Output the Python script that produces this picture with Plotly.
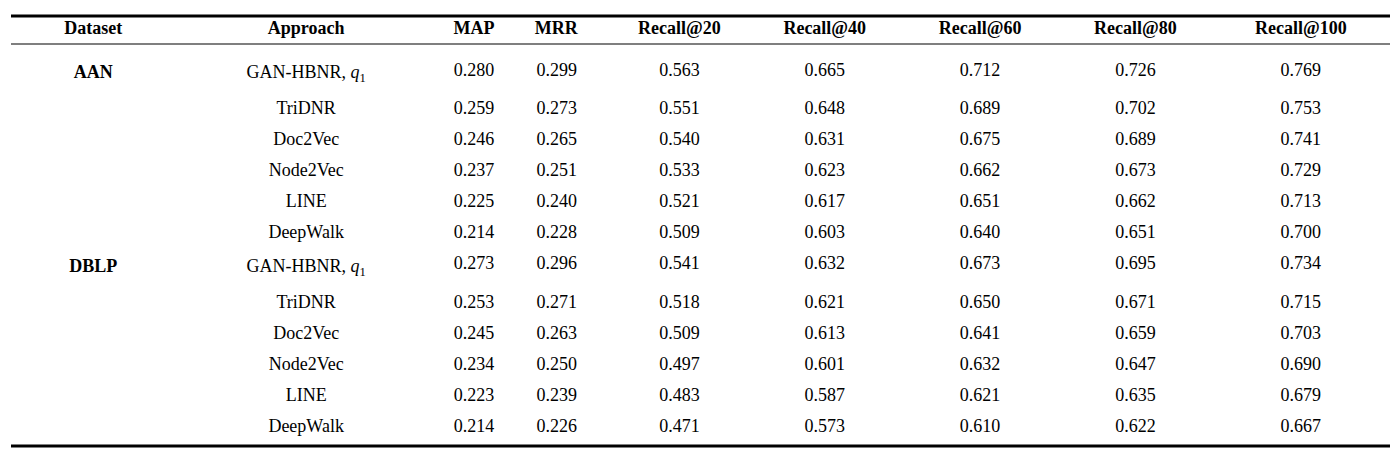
import plotly.graph_objects as go

headers = ["Dataset", "Approach", "MAP", "MRR", "Recall@20", "Recall@40", "Recall@60", "Recall@80", "Recall@100"]
datasets = ["AAN", "", "", "", "", "", "DBLP", "", "", "", "", ""]
approaches = ["GAN-HBNR, <i>q</i><sub>1</sub>", "TriDNR", "Doc2Vec", "Node2Vec", "LINE", "DeepWalk"] * 2
map_vals = ["0.280", "0.259", "0.246", "0.237", "0.225", "0.214", "0.273", "0.253", "0.245", "0.234", "0.223", "0.214"]
mrr_vals = ["0.299", "0.273", "0.265", "0.251", "0.240", "0.228", "0.296", "0.271", "0.263", "0.250", "0.239", "0.226"]
r20 = ["0.563", "0.551", "0.540", "0.533", "0.521", "0.509", "0.541", "0.518", "0.509", "0.497", "0.483", "0.471"]
r40 = ["0.665", "0.648", "0.631", "0.623", "0.617", "0.603", "0.632", "0.621", "0.613", "0.601", "0.587", "0.573"]
r60 = ["0.712", "0.689", "0.675", "0.662", "0.651", "0.640", "0.673", "0.650", "0.641", "0.632", "0.621", "0.610"]
r80 = ["0.726", "0.702", "0.689", "0.673", "0.662", "0.651", "0.695", "0.671", "0.659", "0.647", "0.635", "0.622"]
r100 = ["0.769", "0.753", "0.741", "0.729", "0.713", "0.700", "0.734", "0.715", "0.703", "0.690", "0.679", "0.667"]

font = "Liberation Serif"
W, H = 1398, 452
col_widths = [160, 265, 70, 95, 150, 140, 170, 140, 190]

fig = go.Figure(go.Table(
    domain=dict(x=[5 / W, 1388 / W], y=[0, (H - 2) / H]),
    columnwidth=col_widths,
    header=dict(
        values=["<b>%s</b>" % h for h in headers],
        height=44, align="center", fill_color="white", line_color="white",
        font=dict(family=font, size=18, color="black"),
    ),
    cells=dict(
        values=[["<b>%s</b>" % d if d else "" for d in datasets], approaches,
                map_vals, mrr_vals, r20, r40, r60, r80, r100],
        height=31, align="center", fill_color="white", line_color="white",
        font=dict(family=font, size=18, color="black"),
    ),
))

lines = [(8, 3), (36, 1.2), (438, 3)]
for y, w in lines:
    fig.add_shape(type="line", xref="paper", yref="paper",
                  x0=3 / W, x1=1395 / W, y0=1 - y / H, y1=1 - y / H,
                  line=dict(color="black", width=w))

fig.update_layout(width=W, height=H, margin=dict(l=0, r=0, t=0, b=0),
                  paper_bgcolor="white", plot_bgcolor="white")
fig.write_html("out.html")
